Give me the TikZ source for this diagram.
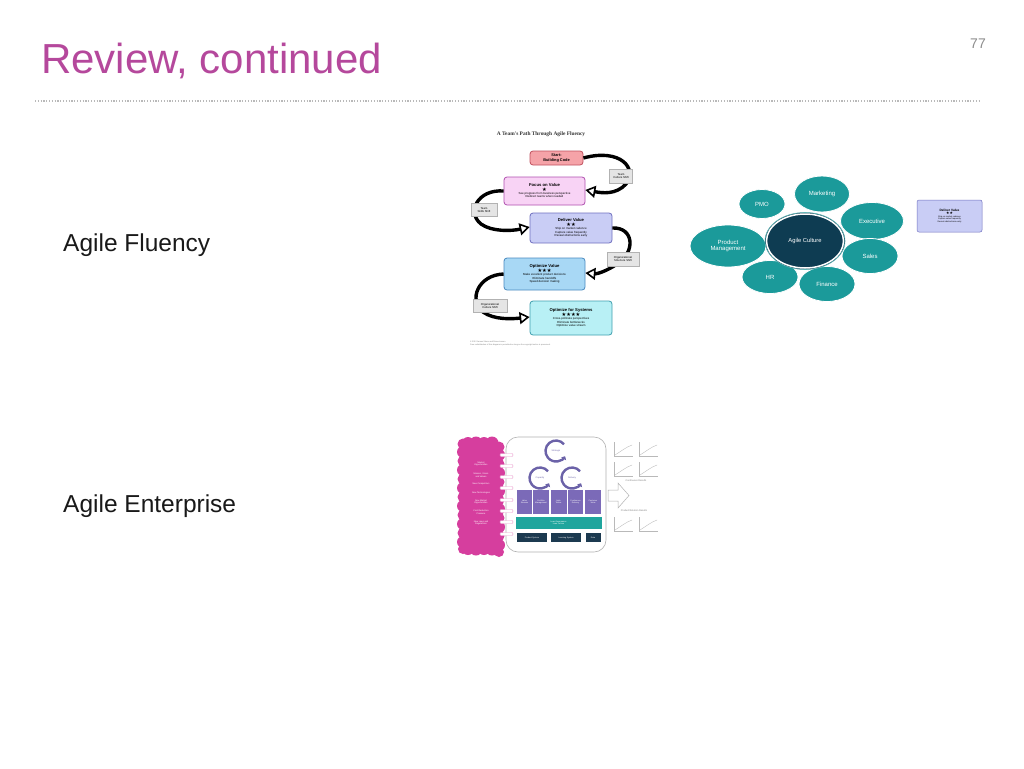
\documentclass[tikz,border=0pt]{standalone}
\usepackage{fontspec}
\setmainfont{Liberation Sans}
\newfontfamily\serifff{Liberation Serif}
\newfontfamily\dejavu{DejaVu Sans}
\usetikzlibrary{arrows.meta,shapes.geometric}
\definecolor{titlepink}{HTML}{B5489C}
\definecolor{startfill}{HTML}{F5A3A8}
\definecolor{startdraw}{HTML}{C0505E}
\definecolor{focusfill}{HTML}{F8D3F5}
\definecolor{focusdraw}{HTML}{B050B0}
\definecolor{delfill}{HTML}{C9CDF5}
\definecolor{deldraw}{HTML}{7070C0}
\definecolor{ovfill}{HTML}{A8D8F5}
\definecolor{ovdraw}{HTML}{4A8AC0}
\definecolor{osfill}{HTML}{B8F0F5}
\definecolor{osdraw}{HTML}{40A0B0}
\definecolor{tealc}{HTML}{1B9A9A}
\definecolor{navyc}{HTML}{0E3C52}
\definecolor{cloudpink}{HTML}{D63E9E}
\definecolor{purplec}{HTML}{7B6AB8}
\definecolor{arcpurple}{HTML}{6B62A8}
\definecolor{teal2}{HTML}{1FA59D}
\definecolor{navy2}{HTML}{1C3A50}
\newcommand{\flbody}[3]{\fontsize{2.9}{3.4}\selectfont\setlength{\tabcolsep}{0pt}\renewcommand{\arraystretch}{1}\begin{tabular}{c}\bfseries\fontsize{4.2}{5.2}\selectfont #1\\\dejavu\fontsize{5.2}{6}\selectfont #2\\#3\end{tabular}}
\newcommand{\dvbody}[3]{\fontsize{2.1}{2.5}\selectfont\setlength{\tabcolsep}{0pt}\renewcommand{\arraystretch}{1}\begin{tabular}{c}\bfseries\fontsize{3.2}{4}\selectfont #1\\\dejavu\fontsize{3.8}{4.6}\selectfont #2\\#3\end{tabular}}
\tikzset{
  flbox/.style={rounded corners=3pt, line width=0.8pt, inner sep=1pt},
  shiftlbl/.style={fill=gray!20, draw=gray!60, line width=0.3pt, align=center, inner sep=0.8pt, font=\fontsize{2.8}{3.2}\selectfont},
  flarrow/.style={line width=3.4pt, black, -{Triangle[open, length=10pt, width=12pt, line width=1.6pt]}},
  cult/.style={ellipse, fill=tealc, draw=white, line width=0.8pt, text=white, align=center, inner sep=0pt, font=\fontsize{6}{6.8}\selectfont},
  tab/.style={draw=cloudpink!50, fill=white, rounded corners=1pt, line width=0.4pt},
  pbox/.style={fill=purplec, text=white, align=center, inner sep=0pt, font=\fontsize{2}{2.4}\selectfont},
  nbox/.style={fill=navy2, text=white, align=center, inner sep=0pt, font=\fontsize{2}{2.4}\selectfont},
  cloudlbl/.style={text=white, align=center, font=\fontsize{2.2}{2.6}\selectfont},
  arcarrow/.style={arcpurple, line width=2.4pt, -{Triangle[length=3pt, width=5.5pt]}},
  chart/.style={gray!55, line width=0.35pt},
  tinygray/.style={text=gray, font=\fontsize{2.4}{2.8}\selectfont},
}
\begin{document}
\begin{tikzpicture}[x=1pt, y=-1pt]
\useasboundingbox (0,0) rectangle (1024,768);
\fill[white] (0,0) rectangle (1024,768);

% ---- header ----
\node[anchor=base west, inner sep=0pt, text=titlepink, font=\fontsize{42}{46}\selectfont] (title) at (41,73) {Review, continued};
\node[anchor=north east, inner sep=0pt, text=gray!90, font=\fontsize{14}{16}\selectfont] (pagenum) at (986,39) {77};
\coordinate (dl) at (35,101);
\coordinate (dr) at (981,101);
\draw[gray!55, line width=1.3pt, dash pattern=on 1.2pt off 1.6pt] (dl) -- (dr);

% ---- left labels ----
\node[anchor=base west, inner sep=0pt, font=\fontsize{24.5}{28}\selectfont, text=black!90] (lf) at (63,251) {Agile Fluency};
\node[anchor=base west, inner sep=0pt, font=\fontsize{24.5}{28}\selectfont, text=black!90] (le) at (63,512) {Agile Enterprise};

% ---- Agile Fluency diagram ----
\node[inner sep=0pt, font=\serifff\bfseries\fontsize{5.4}{6}\selectfont, text=black!80] (fltitle) at (541,134) {A Team's Path Through Agile Fluency};

\node[flbox, fill=startfill, draw=startdraw, minimum width=53pt, minimum height=14pt, align=center, font=\bfseries\fontsize{3.9}{4.4}\selectfont] (start) at (556.5,158) {Start:\\Building Code};

\node[flbox, fill=focusfill, draw=focusdraw, minimum width=81pt, minimum height=28pt] (focus) at (544.5,191)
 {\flbody{Focus on Value}{★}{See progress from business perspective\\Redirect teams when needed}};

\node[flbox, fill=delfill, draw=deldraw, minimum width=82pt, minimum height=30pt] (deliver) at (571,228)
 {\flbody{Deliver Value}{★★}{Ship on market cadence\\Capture value frequently\\Reveal obstructions early}};

\node[flbox, fill=ovfill, draw=ovdraw, minimum width=81pt, minimum height=32pt] (optval) at (544.5,274)
 {\flbody{Optimize Value}{★★★}{Make excellent product decisions\\Eliminate handoffs\\Speed decision making}};

\node[flbox, fill=osfill, draw=osdraw, minimum width=82pt, minimum height=34pt] (optsys) at (571,318)
 {\flbody{Optimize for Systems}{★★★★}{Cross-pollinate perspectives\\Eliminate bottlenecks\\Optimize value stream}};

\draw[flarrow] (start.east) .. controls (620,148) and (638,168) .. (626,184) .. controls (616,195) and (602,193) .. ([yshift=1pt]focus.east);
\draw[flarrow] (focus.west) .. controls (478,189) and (466,212) .. (481,224) .. controls (492,232) and (512,231) .. ([yshift=1pt]deliver.west);
\draw[flarrow] (deliver.east) .. controls (634,227) and (636,252) .. (617,264) .. controls (607,271) and (597,274) .. ([yshift=1pt]optval.east);
\draw[flarrow] (optval.west) .. controls (478,275) and (468,300) .. (483,312) .. controls (494,320) and (512,319) .. ([yshift=1pt]optsys.west);

\node[shiftlbl, minimum width=23pt, minimum height=14pt] (s1) at (621,176) {Team\\Culture Shift};
\node[shiftlbl, minimum width=26pt, minimum height=13pt] (s2) at (484,210) {Team\\Skills Shift};
\node[shiftlbl, minimum width=32pt, minimum height=14pt] (s3) at (623,259) {Organizational\\Structure Shift};
\node[shiftlbl, minimum width=34pt, minimum height=13pt] (s4) at (490,306) {Organizational\\Culture Shift};

\node[anchor=north west, inner sep=0pt, align=left, text=gray, font=\fontsize{2}{2.6}\selectfont] (flfoot) at (470,341) {\copyright\ 2012 James Shore and Diana Larsen\\Free redistribution of this diagram is permitted as long as the copyright notice is preserved.};

% ---- Agile Culture diagram ----
\node[cult, minimum width=46pt, minimum height=29pt] (pmo) at (762,204) {PMO};
\node[cult, minimum width=55pt, minimum height=36pt] (mkt) at (822,194) {Marketing};
\node[cult, minimum width=63pt, minimum height=37pt] (exe) at (872,221) {Executive};
\node[cult, minimum width=76pt, minimum height=42pt] (pm) at (728,246) {Product\\Management};
\node[cult, minimum width=56pt, minimum height=35pt] (sales) at (870,256) {Sales};
\node[cult, minimum width=56pt, minimum height=33pt] (hr) at (770,277) {HR};
\node[cult, minimum width=56pt, minimum height=35pt] (fin) at (827,284) {Finance};
\node[ellipse, fill=navyc, draw=tealc!70, line width=0.6pt, minimum width=80pt, minimum height=57pt, inner sep=0pt] (acring) at (805,241) {};
\node[cult, fill=navyc, draw=white, line width=1.5pt, minimum width=77pt, minimum height=54pt, font=\fontsize{5.8}{6.5}\selectfont] (ac) at (805,241) {Agile Culture};

\node[rounded corners=2pt, fill=delfill, draw=deldraw, line width=0.5pt, minimum width=65pt, minimum height=32pt, inner sep=0.5pt] (dv) at (949.5,216)
 {\dvbody{Deliver Value}{★★}{Ship on market cadence\\Capture value frequently\\Reveal obstructions early}};

% ---- Agile Enterprise diagram ----
% cloud
\fill[cloudpink] (461,444) rectangle (500,548);
\foreach \yy/\rr in {444/5.5,452/6,461/5.5,470/6,479/5.5,488/6,497/5.5,506/6,515/5.5,524/6,533/5.5,542/6,549/5}{
  \fill[cloudpink] (463,\yy) circle (\rr pt);
  \fill[cloudpink] (499,\yy+3) circle (\rr pt);
}
\foreach \xx/\rr in {468/6,476/6.5,484/6,492/6.5}{
  \fill[cloudpink] (\xx,443) circle (\rr pt);
  \fill[cloudpink] (\xx,549) circle (\rr pt);
}
\node[cloudlbl] (c1) at (481,464) {Market\\Opportunities};
\node[cloudlbl] (c2) at (481,475) {Mission, Vision\\and Values};
\node[cloudlbl] (c3) at (481,484) {New Competitors};
\node[cloudlbl] (c4) at (481,493) {New Technologies};
\node[cloudlbl] (c5) at (481,502) {New Market\\Opportunities};
\node[cloudlbl] (c6) at (481,512) {Cost Reduction\\Pressure};
\node[cloudlbl] (c7) at (481,523) {New Laws and\\Regulations};

% main box
\node[draw=gray!60, line width=0.6pt, rounded corners=12pt, minimum width=100pt, minimum height=115pt, inner sep=0pt] (ebox) at (556,494.5) {};

% tabs
\foreach \yy in {455,466,477,488,500,511,522,534}{
  \draw[tab] (500,\yy-1.5) rectangle (513,\yy+1.5);
}

% circular arrows
\foreach \cx/\cy/\lab in {556/451/Strategic, 540/478/Capacity, 572/478/Delivery}{
  \draw[arcarrow] (\cx,\cy) ++(40:10.5pt) arc[start angle=40, end angle=330, radius=10.5pt];
  \node[text=arcpurple, font=\fontsize{2.2}{2.6}\selectfont, inner sep=0pt] at (\cx,\cy) {\lab};
}

% purple row
\node[pbox, minimum width=15.5pt, minimum height=24pt] (p1) at (524.5,502) {Value\\Streams};
\node[pbox, minimum width=15.5pt, minimum height=24pt] (p2) at (541,502) {Portfolio\\Management};
\node[pbox, minimum width=16pt, minimum height=24pt] (p3) at (558.5,502) {Agile\\Teams};
\node[pbox, minimum width=15.5pt, minimum height=24pt] (p4) at (575.5,502) {Continuous\\Delivery};
\node[pbox, minimum width=16pt, minimum height=24pt] (p5) at (593,502) {Customer\\Value};
\node[fill=teal2, text=white, align=center, inner sep=0pt, minimum width=86pt, minimum height=12pt, font=\fontsize{2}{2.4}\selectfont] (tb) at (558.5,523) {Lean Governance\\Lean Culture};
\node[nbox, minimum width=30pt, minimum height=9pt] (n1) at (532,537.5) {Product System};
\node[nbox, minimum width=30pt, minimum height=9pt] (n2) at (566,537.5) {Learning System};
\node[nbox, minimum width=15pt, minimum height=9pt] (n3) at (593,537.5) {Data};

% hollow arrow
\draw[gray!60, line width=0.5pt, fill=white] (608,490) -- (618,490) -- (618,483) -- (629,495.5) -- (618,508) -- (618,501) -- (608,501) -- cycle;

% charts
\foreach \ox/\oy in {612/442, 637/442, 612/462, 637/462, 612/517, 637/517}{
  \draw[chart] (\ox+2,\oy) -- (\ox+2,\oy+14) -- (\ox+21,\oy+14);
  \draw[chart] (\ox+3,\oy+13) .. controls (\ox+8,\oy+10) and (\ox+14,\oy+5) .. (\ox+20,\oy+3);
}
\node[tinygray] (r1) at (636,481) {Continuous Results};
\node[tinygray] (r2) at (634,511) {Product/Solution Results};
\end{tikzpicture}
\end{document}
